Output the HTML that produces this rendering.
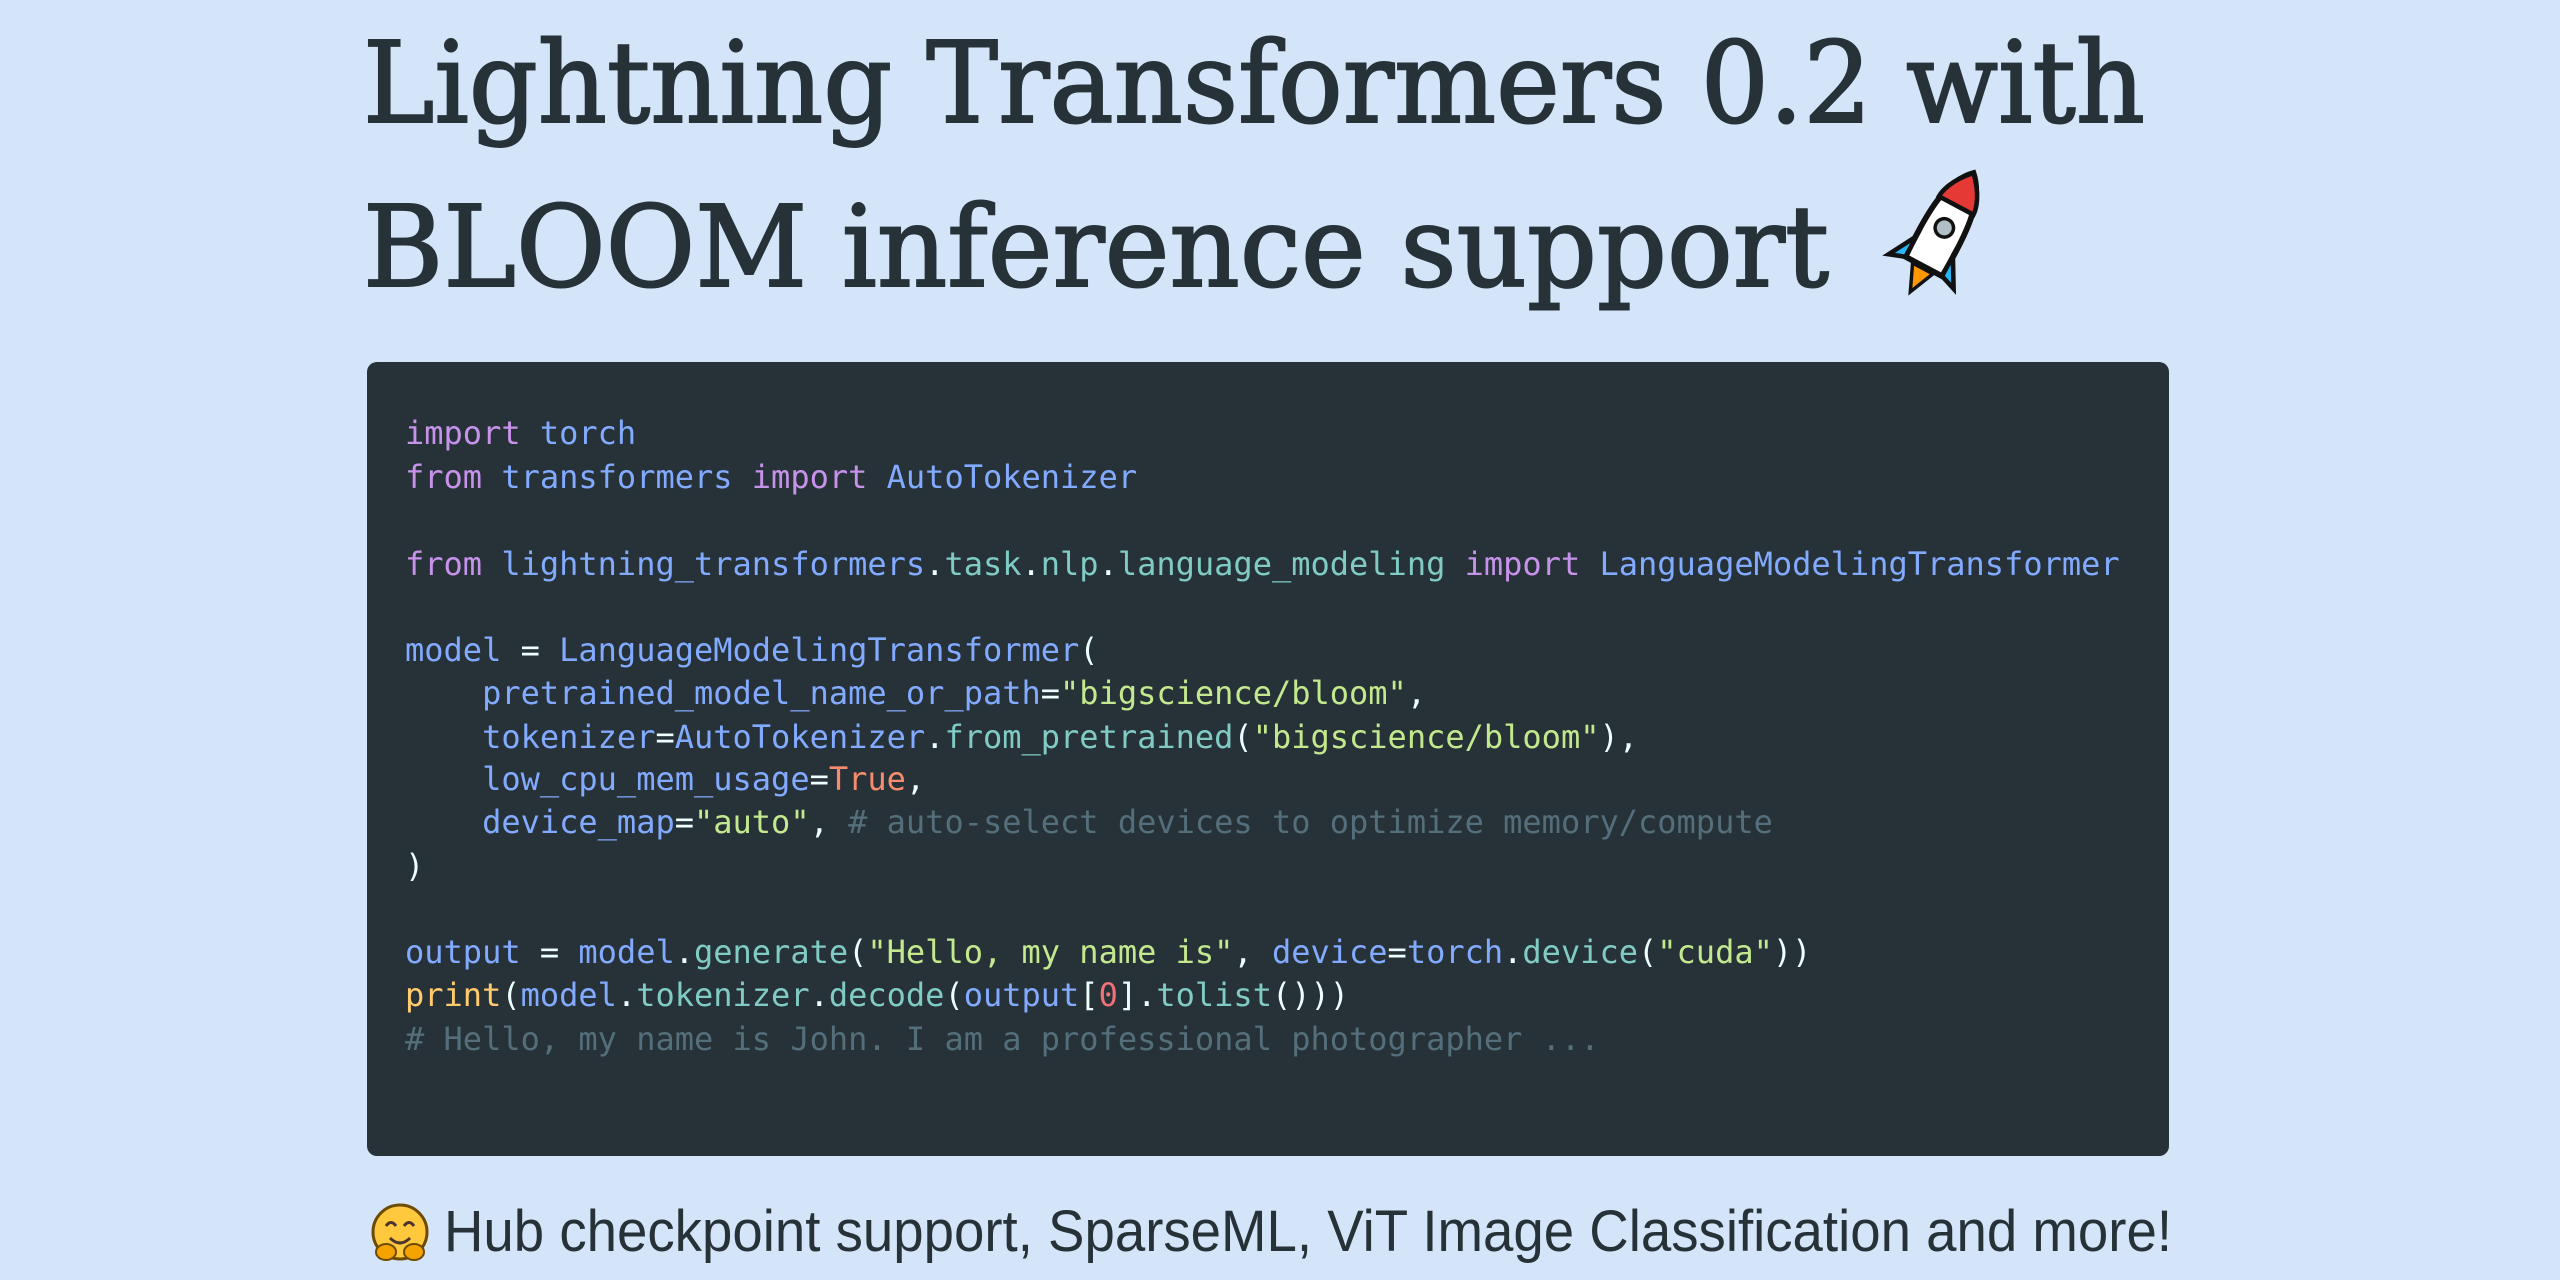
<!DOCTYPE html>
<html><head><meta charset="utf-8"><style>
html,body{margin:0;padding:0;width:2560px;height:1280px;overflow:hidden;background:#d4e4f9}
svg{display:block}
.t{font-family:"DejaVu Serif","Liberation Serif",serif;fill:#263238;stroke:#263238;stroke-width:2px;font-size:112px}
.c{font-family:"DejaVu Sans Mono","Liberation Mono",monospace;font-size:32px;fill:#82aaff}
.k{fill:#c792ea}.f{fill:#80cbc4}.s{fill:#c3e88d}.m{fill:#546e7a}.o{fill:#f78c6c}.p{fill:#eeffff}.y{fill:#ffcb6b}.r{fill:#f07178}
.b{font-family:"Liberation Sans","DejaVu Sans",sans-serif;font-size:58px;fill:#263238}
</style></head><body>
<svg width="2560" height="1280" viewBox="0 0 2560 1280">
<rect width="2560" height="1280" fill="#d4e4f9"/>
<text class="t" x="363" y="122" textLength="1782" lengthAdjust="spacingAndGlyphs">Lightning Transformers 0.2 with</text>
<text class="t" x="363" y="286" textLength="1466" lengthAdjust="spacingAndGlyphs">BLOOM inference support</text>
<!-- rocket -->
<g transform="translate(1940,236) rotate(28) scale(1.15)">
<path d="M0,-62 C18,-45 20,-15 18,30 L-18,30 C-20,-15 -18,-45 0,-62Z" fill="#fff" stroke="#111" stroke-width="5"/>
<path d="M0,-62 C14,-48 17,-35 17,-30 L-17,-30 C-17,-35 -14,-48 0,-62Z" fill="#e53935" stroke="#111" stroke-width="4"/>
<circle cx="0" cy="-8" r="8" fill="#b0bec5" stroke="#111" stroke-width="3"/>
<path d="M-18,10 L-32,35 L-18,30Z M18,10 L32,35 L18,30Z" fill="#29b6f6" stroke="#111" stroke-width="4"/>
<path d="M-10,32 L0,55 L10,32Z" fill="#ff9800" stroke="#111" stroke-width="3"/>
</g>
<rect x="367" y="362" width="1802" height="794" rx="10" fill="#263238"/>
<g class="c">
<text x="405" y="444"><tspan class="k">import</tspan> torch</text>
<text x="405" y="488"><tspan class="k">from</tspan> transformers <tspan class="k">import</tspan> AutoTokenizer</text>
<text x="405" y="575"><tspan class="k">from</tspan> lightning_transformers<tspan class="p">.</tspan><tspan class="f">task</tspan><tspan class="p">.</tspan><tspan class="f">nlp</tspan><tspan class="p">.</tspan><tspan class="f">language_modeling</tspan> <tspan class="k">import</tspan> LanguageModelingTransformer</text>
<text x="405" y="661">model <tspan class="p">=</tspan> LanguageModelingTransformer<tspan class="p">(</tspan></text>
<text x="405" y="704" xml:space="preserve">    pretrained_model_name_or_path<tspan class="p">=</tspan><tspan class="s">"bigscience/bloom"</tspan><tspan class="p">,</tspan></text>
<text x="405" y="748" xml:space="preserve">    tokenizer<tspan class="p">=</tspan>AutoTokenizer<tspan class="p">.</tspan><tspan class="f">from_pretrained</tspan><tspan class="p">(</tspan><tspan class="s">"bigscience/bloom"</tspan><tspan class="p">),</tspan></text>
<text x="405" y="790" xml:space="preserve">    low_cpu_mem_usage<tspan class="p">=</tspan><tspan class="o">True</tspan><tspan class="p">,</tspan></text>
<text x="405" y="833" xml:space="preserve">    device_map<tspan class="p">=</tspan><tspan class="s">"auto"</tspan><tspan class="p">,</tspan> <tspan class="m"># auto-select devices to optimize memory/compute</tspan></text>
<text x="405" y="877"><tspan class="p">)</tspan></text>
<text x="405" y="963">output <tspan class="p">=</tspan> model<tspan class="p">.</tspan><tspan class="f">generate</tspan><tspan class="p">(</tspan><tspan class="s">"Hello, my name is"</tspan><tspan class="p">,</tspan> device<tspan class="p">=</tspan>torch<tspan class="p">.</tspan><tspan class="f">device</tspan><tspan class="p">(</tspan><tspan class="s">"cuda"</tspan><tspan class="p">))</tspan></text>
<text x="405" y="1006"><tspan class="y">print</tspan><tspan class="p">(</tspan>model<tspan class="p">.</tspan><tspan class="f">tokenizer</tspan><tspan class="p">.</tspan><tspan class="f">decode</tspan><tspan class="p">(</tspan>output<tspan class="p">[</tspan><tspan class="r">0</tspan><tspan class="p">].</tspan><tspan class="f">tolist</tspan><tspan class="p">()))</tspan></text>
<text x="405" y="1050" class="m"># Hello, my name is John. I am a professional photographer ...</text>
</g>
<!-- hugging face -->
<g transform="translate(400,1232)">
<circle cx="0" cy="0" r="27" fill="#ffc83d" stroke="#6d4c00" stroke-width="3"/>
<path d="M-14,-6 q5,-7 10,0 M4,-6 q5,-7 10,0" stroke="#4e342e" stroke-width="3" fill="none"/>
<path d="M-10,6 q10,10 20,0" stroke="#4e342e" stroke-width="3" fill="none"/>
<ellipse cx="-14" cy="20" rx="10" ry="8" fill="#f4a300" stroke="#6d4c00" stroke-width="2"/>
<ellipse cx="14" cy="20" rx="10" ry="8" fill="#f4a300" stroke="#6d4c00" stroke-width="2"/>
</g>
<text class="b" x="444" y="1251" textLength="1728" lengthAdjust="spacingAndGlyphs">Hub checkpoint support, SparseML, ViT Image Classification and more!</text>
</svg>
</body></html>
